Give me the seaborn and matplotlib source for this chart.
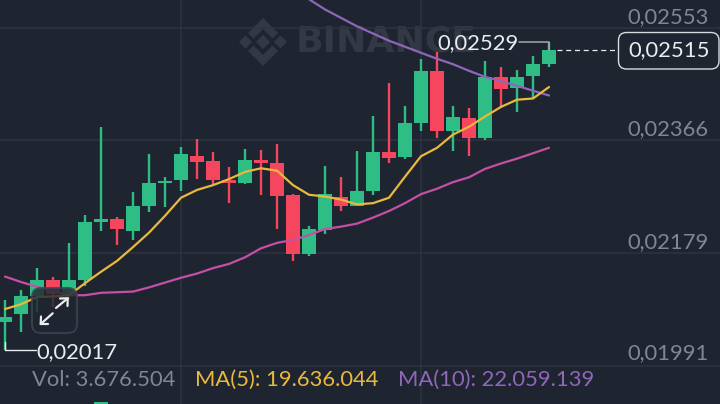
"""
plot.py

Candlestick chart with moving averages on a dark trading app background.
"""

from __future__ import annotations

import matplotlib

matplotlib.use("Agg")

import matplotlib.pyplot as plt
from matplotlib.patches import FancyBboxPatch, Polygon, Rectangle
import seaborn as sns

opens = [
    0.02064, 0.02077, 0.02107, 0.02133, 0.02107, 0.02134, 0.02229,
    0.02235, 0.02215, 0.02256, 0.02294, 0.02299, 0.02340, 0.02331,
    0.02300, 0.02295, 0.02333, 0.02328, 0.02275, 0.02177, 0.02216,
    0.02272, 0.02257, 0.02282, 0.02346, 0.02337, 0.02394, 0.02481,
    0.02381, 0.02403, 0.02369, 0.02470, 0.02452, 0.02472, 0.02492,
]
closes = [
    0.02072, 0.02107, 0.02134, 0.02110, 0.02134, 0.02229, 0.02234,
    0.02218, 0.02257, 0.02294, 0.02298, 0.02342, 0.02329, 0.02299,
    0.02295, 0.02333, 0.02328, 0.02273, 0.02177, 0.02218, 0.02276,
    0.02257, 0.02282, 0.02346, 0.02336, 0.02395, 0.02481, 0.02381,
    0.02404, 0.02369, 0.02470, 0.02451, 0.02471, 0.02492, 0.02515,
]
highs = [
    0.02100, 0.02117, 0.02153, 0.02138, 0.02195, 0.02241, 0.02388,
    0.02238, 0.02279, 0.02342, 0.02305, 0.02355, 0.02368, 0.02346,
    0.02321, 0.02351, 0.02349, 0.02359, 0.02277, 0.02223, 0.02323,
    0.02304, 0.02348, 0.02406, 0.02461, 0.02423, 0.02501, 0.02513,
    0.02422, 0.02420, 0.02498, 0.02488, 0.02482, 0.02506, 0.02529,
]
lows = [
    0.02017, 0.02047, 0.02080, 0.02088, 0.02100, 0.02124, 0.02215,
    0.02192, 0.02200, 0.02246, 0.02255, 0.02281, 0.02301, 0.02293,
    0.02261, 0.02293, 0.02275, 0.02218, 0.02165, 0.02174, 0.02210,
    0.02248, 0.02256, 0.02275, 0.02327, 0.02334, 0.02381, 0.02370,
    0.02348, 0.02339, 0.02366, 0.02419, 0.02413, 0.02435, 0.02488,
]
ma_5 = [
    0.02085, 0.02093, 0.02105, 0.02106, 0.02108, 0.02128, 0.02147,
    0.02165, 0.02188, 0.02212, 0.02240, 0.02270, 0.02283, 0.02291,
    0.02301, 0.02313, 0.02319, 0.02315, 0.02291, 0.02275, 0.02272,
    0.02267, 0.02259, 0.02261, 0.02270, 0.02305, 0.02339, 0.02353,
    0.02375, 0.02388, 0.02405, 0.02421, 0.02433, 0.02435, 0.02454,
]
ma_long = [
    0.02139, 0.02130, 0.02122, 0.02115, 0.02108, 0.02108, 0.02112,
    0.02113, 0.02114, 0.02121, 0.02129, 0.02137, 0.02144, 0.02153,
    0.02160, 0.02171, 0.02186, 0.02195, 0.02200, 0.02208, 0.02218,
    0.02222, 0.02227, 0.02237, 0.02248, 0.02261, 0.02276, 0.02285,
    0.02296, 0.02304, 0.02318, 0.02327, 0.02335, 0.02344, 0.02353,
]
# only the last candles of this one are inside the frame
ma_10_first = 18
ma_10 = [
    0.02615, 0.02600, 0.02583, 0.02569, 0.02555, 0.02543, 0.02531,
    0.02521, 0.02511, 0.02501, 0.02492, 0.02481, 0.02471, 0.02464,
    0.02456, 0.02448, 0.02440,
]
tick_values = [0.02553, 0.02366, 0.02179, 0.01991]
tick_labels = ["0,02553", "0,02366", "0,02179", "0,01991"]
grid_candles = [11, 26]

BG = "#1e2530"
GRID = "#2e343f"
GREEN = "#2ebd85"
RED = "#f6465d"
ORANGE = "#e9b93c"
PURPLE = "#8f66ba"
PINK = "#c64fa6"
MUTED = "#7f8793"
WHITE = "#eaecef"
FONT = "Lato"
LABEL_SIZE = 15.8

PX_W, PX_H = 720, 404
CANDLE_PX = 16
PRICE_PER_PX = 1.6622e-5


def pixel_axes(fig, zorder):
    """Full-figure axes measured in image pixels, for the app decorations."""
    ax = fig.add_axes([0, 0, 1, 1], zorder=zorder)
    ax.set_xlim(0, PX_W)
    ax.set_ylim(PX_H, 0)
    ax.set_axis_off()
    ax.patch.set_alpha(0)
    return ax


def draw_watermark(ax):
    color = "#333944"
    cx, cy = 263, 42
    for dx, half in [(0, 7), (-17.5, 6.5), (17.5, 6.5)]:
        ax.add_patch(Polygon(
            [(cx + dx, cy - half), (cx + dx + half, cy),
             (cx + dx, cy + half), (cx + dx - half, cy)],
            color=color, lw=0,
        ))
    for sign in (-1, 1):
        pts = [(0, 24), (15, 9), (9.5, 3.5), (0, 13), (-9.5, 3.5), (-15, 9)]
        ax.add_patch(Polygon(
            [(cx + x, cy + sign * y) for x, y in pts], color=color, lw=0,
        ))
    ax.text(296, 41, "BINANCE", color=color, fontsize=26, fontweight="bold",
            family="DejaVu Sans", va="center", ha="left")


def draw_candles(ax):
    x = list(range(len(opens)))
    colors = [GREEN if c >= o else RED for o, c in zip(opens, closes)]
    ax.vlines(x, lows, highs, colors=colors, lw=1.7, zorder=3)
    ax.bar(
        x,
        [abs(c - o) for o, c in zip(opens, closes)],
        bottom=[min(o, c) for o, c in zip(opens, closes)],
        width=14 / CANDLE_PX,
        color=colors,
        edgecolor="none",
        linewidth=0,
        zorder=3,
    )


def draw_averages(ax):
    x = list(range(len(opens)))
    series = [
        (x, ma_long, PINK),
        (x[ma_10_first:], ma_10, PURPLE),
        (x, ma_5, ORANGE),
    ]
    for xs, ys, color in series:
        sns.lineplot(x=xs, y=ys, color=color, lw=1.6, estimator=None,
                     legend=False, ax=ax, zorder=4)


def draw_price_labels(ax):
    last = len(opens) - 1
    label_lift = [10, 11, 10, 13]
    for value, label, lift in zip(tick_values, tick_labels, label_lift):
        ax.axhline(value, color=GRID, lw=1.1, zorder=1)
        ax.annotate(label, xy=(1, value), xycoords=("axes fraction", "data"),
                    xytext=(-11, lift), textcoords="offset pixels",
                    color=MUTED, fontsize=LABEL_SIZE, ha="right", va="center")
    for candle in grid_candles:
        ax.axvline(candle, color=GRID, lw=1.1, zorder=1)

    # lowest price, bottom left
    low = min(lows)
    low_i = lows.index(low)
    ax.plot([low_i, low_i, low_i + 31 / CANDLE_PX],
            [low + 8 * PRICE_PER_PX, low, low], color=WHITE, lw=1, zorder=5)
    ax.annotate("0,02017", xy=(low_i, low), xytext=(31, -2),
                textcoords="offset pixels", color=WHITE, fontsize=LABEL_SIZE,
                ha="left", va="center", zorder=6)

    # highest price, top right
    high = max(highs)
    high_i = highs.index(high)
    ax.plot([high_i - 30 / CANDLE_PX, high_i, high_i],
            [high, high, closes[high_i]], color="#a4a8ae", lw=1.1, zorder=5)
    ax.annotate("0,02529", xy=(high_i, high), xytext=(-30, -1),
                textcoords="offset pixels", color=WHITE, fontsize=LABEL_SIZE,
                ha="right", va="center", zorder=6)

    # current price line
    ax.plot([last + 8 / CANDLE_PX, last + 68 / CANDLE_PX], [closes[last]] * 2,
            color=WHITE, lw=0.9, ls=(0, (4, 3)), zorder=5)


def draw_overlay(ax):
    # current price box
    ax.add_patch(FancyBboxPatch(
        (625.5, 39.5), 86.5, 22.5, boxstyle="round,pad=7,rounding_size=8",
        fc=BG, ec="#d9dbdf", lw=1,
    ))
    ax.text(669.5, 50, "0,02515", color=WHITE, fontsize=LABEL_SIZE,
            ha="center", va="center")

    # expand button
    ax.add_patch(FancyBboxPatch(
        (39, 295), 31, 31, boxstyle="round,pad=7,rounding_size=9",
        fc=BG, ec="#3e4550", lw=1.5, alpha=0.8,
    ))
    arrows = [
        ([56, 67.7], [308, 298.3]),
        ([60, 67.7, 67.5], [298.5, 298.3, 306]),
        ([52.7, 40.7], [313.3, 324]),
        ([48, 40.7, 41], [324, 324, 316.5]),
    ]
    for xs, ys in arrows:
        ax.plot(xs, ys, color=WHITE, lw=1.6, solid_capstyle="round")

    # volume readout under the chart
    ax.text(32, 380, "Vol: 3.676.504", color=MUTED, fontsize=15.8, va="center")
    ax.text(195, 380, "MA(5): 19.636.044", color=ORANGE, fontsize=15.8,
            va="center")
    ax.text(398, 380, "MA(10): 22.059.139", color=PURPLE, fontsize=15.8,
            va="center")
    ax.add_patch(Rectangle((94, 401.5), 14, 3, color=GREEN, lw=0))


def main():
    sns.set_theme(style="dark", rc={"figure.facecolor": BG, "axes.facecolor": BG})
    plt.rcParams["font.family"] = [FONT, "DejaVu Sans"]

    fig = plt.figure(figsize=(PX_W / 100, PX_H / 100), dpi=100)
    under = pixel_axes(fig, 0)
    draw_watermark(under)

    ax = fig.add_axes([0, 0, 1, 1], zorder=1)
    ax.patch.set_alpha(0)
    draw_candles(ax)
    draw_averages(ax)
    draw_price_labels(ax)
    ax.set_xlim(-5 / CANDLE_PX, (PX_W - 5) / CANDLE_PX)
    ax.set_ylim(0.02553 - (PX_H - 27.5) * PRICE_PER_PX,
                0.02553 + 27.5 * PRICE_PER_PX)
    ax.set_axis_off()

    over = pixel_axes(fig, 2)
    draw_overlay(over)

    fig.savefig("out.png", dpi=100)


if __name__ == "__main__":
    main()
